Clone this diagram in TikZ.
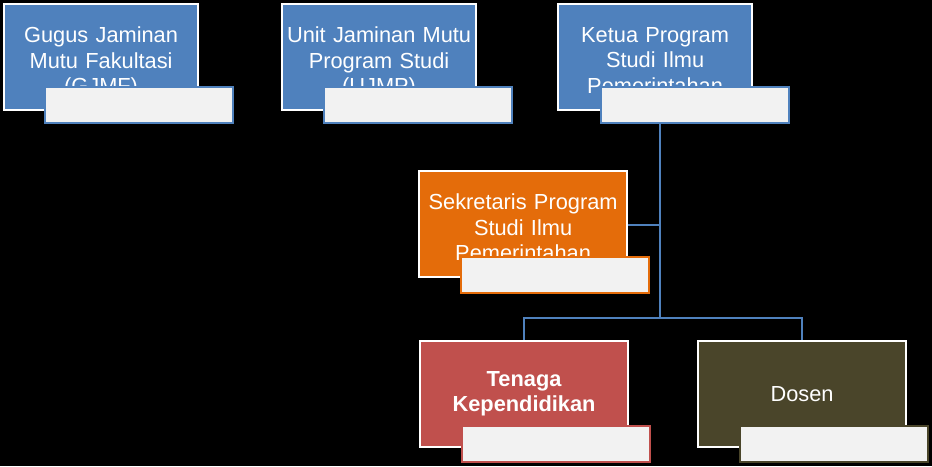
\documentclass[tikz,border=0pt]{standalone}
\usepackage{fontspec}
\setmainfont{Liberation Sans}
\usetikzlibrary{positioning,calc}
\definecolor{bluebox}{HTML}{4F81BD}
\definecolor{orangebox}{HTML}{E46C0A}
\definecolor{redbox}{HTML}{C0504D}
\definecolor{olivebox}{HTML}{4A452A}
\definecolor{subfill}{HTML}{F2F2F2}
\tikzset{
  unitbox/.style={draw=white, line width=1.5pt, minimum width=4.85cm, minimum height=2.65cm,
    inner sep=2pt, text=white, align=center, anchor=north west,
    font=\fontsize{15.5}{18}\selectfont, text width=4.7cm},
  subbox/.style={draw=#1, fill=subfill, line width=1.5pt, minimum width=4.7cm, minimum height=0.9cm,
    anchor=north west, inner sep=0pt},
  link/.style={draw=bluebox, line width=1.8pt}
}
\begin{document}
\begin{tikzpicture}[x=0.025cm, y=-0.025cm]
        \fill[black] (0,0) rectangle (932,466);
        \useasboundingbox (0,0) rectangle (932,466);

        % Top row
        \node[unitbox, fill=bluebox, text depth=1.1cm] (gjmf) at (3,3) {Gugus Jaminan\\Mutu Fakultasi\\(GJMF)};
        \node[subbox=bluebox] (gjmf-sub) at (44,86) {};
        \node[unitbox, fill=bluebox, text depth=1.1cm] (ujmp) at (281,3) {Unit Jaminan Mutu\\Program Studi\\(UJMP)};
        \node[subbox=bluebox] (ujmp-sub) at (323,86) {};
        \node[unitbox, fill=bluebox, text depth=1.1cm] (ketua) at (557,3) {Ketua Program\\Studi Ilmu\\Pemerintahan};
        \node[subbox=bluebox] (ketua-sub) at (600,86) {};

        % Middle
        \node[unitbox, fill=orangebox, text depth=1.1cm, minimum width=5.2cm, text width=5cm] (sekr) at (418,170) {Sekretaris Program\\Studi Ilmu\\Pemerintahan};
        \node[subbox=orangebox] (sekr-sub) at (460,256) {};

        % Bottom row
        \node[unitbox, fill=redbox, minimum width=5.2cm, text width=5cm, font=\fontsize{15.5}{18}\selectfont\bfseries] (tenaga) at (419,340) {Tenaga\\Kependidikan};
        \node[subbox=redbox] (tenaga-sub) at (461,425) {};
        \node[unitbox, fill=olivebox, minimum width=5.2cm, text width=5cm] (dosen) at (697,340) {Dosen};
        \node[subbox=olivebox] (dosen-sub) at (739,425) {};

        % Connectors
        \coordinate (trunk) at (660,123);
        \coordinate (split) at (660,318);
        \draw[link] (trunk) -- (split);
        \draw[link] (sekr.east |- 0,225) -- (660,225);
        \draw[link] (split) -| (tenaga.north);
        \draw[link] (split) -| (dosen.north);
    \end{tikzpicture}
\end{document}
